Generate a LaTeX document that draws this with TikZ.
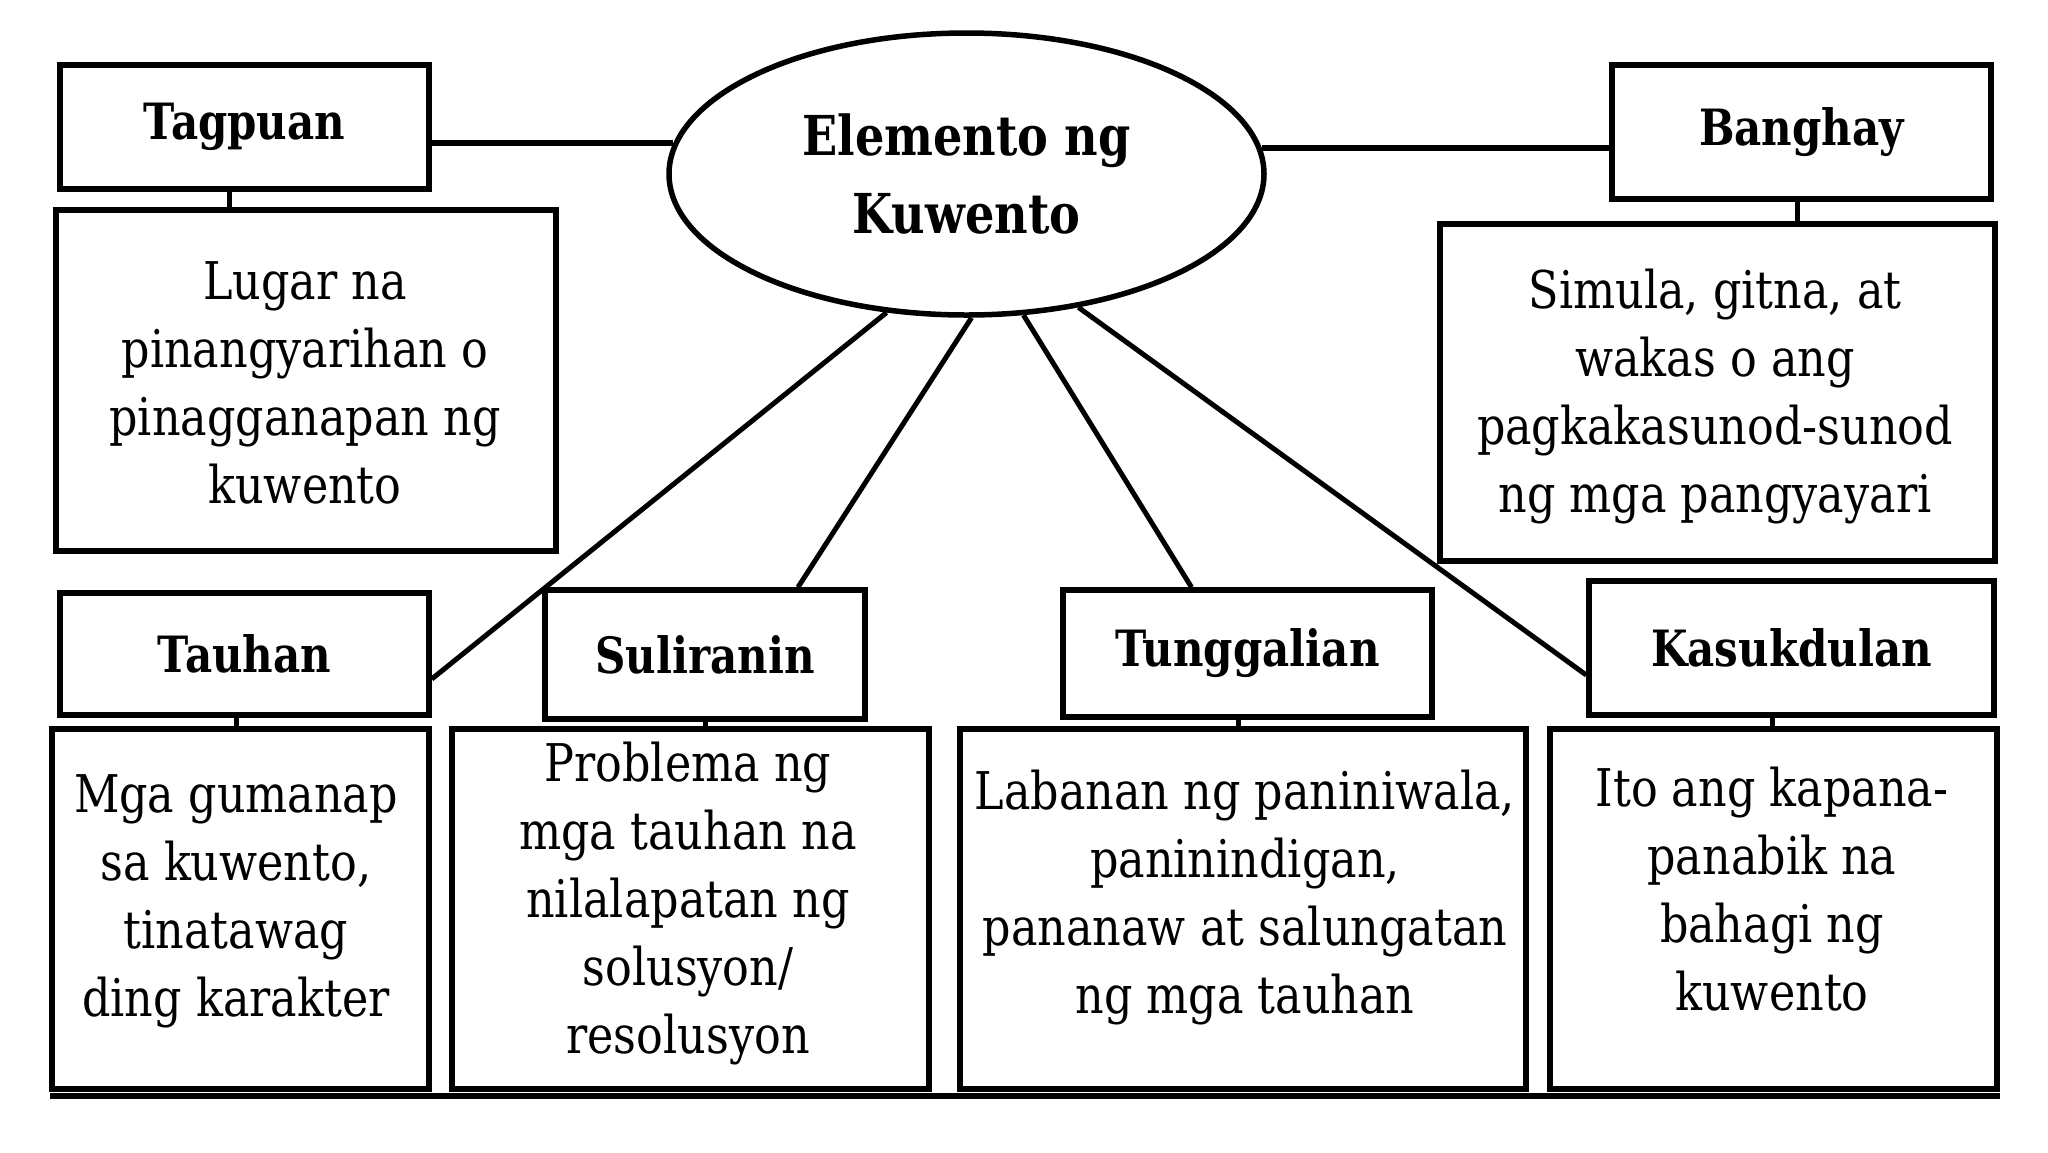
\documentclass[tikz,border=0pt]{standalone}
\usepackage{fontspec}
\setmainfont{DejaVu Serif}[FakeStretch=0.855, BoldFeatures={FakeStretch=0.84}]
\usetikzlibrary{shapes.geometric}
\tikzset{
  ln/.style={line width=5pt},
  hln/.style={line width=6.5pt},
  title/.style={draw, line width=5.5pt, inner sep=0pt, font=\bfseries\fontsize{50}{60}\selectfont},
  descbox/.style={draw, line width=5.5pt, inner sep=0pt, minimum height=360pt},
  desctext/.style={align=center, inner sep=0pt, font=\fontsize{52}{68}\selectfont},
  hub/.style={draw, ellipse, line width=5.5pt, inner sep=0pt, minimum width=595pt, minimum height=282pt, align=center, font=\bfseries\fontsize{55}{78}\selectfont}
}
\begin{document}
\begin{tikzpicture}[x=1pt, y=-1pt]
\useasboundingbox[fill=white] (0,0) rectangle (2048,1152);
% hub
\node[hub] (elem) at (966.5,174) {Elemento ng\\Kuwento};
% top row
\node[title, minimum width=369pt, minimum height=124pt] (tagpuan) at (244.5,127) {Tagpuan};
\node[title, minimum width=379pt, minimum height=134pt] (banghay) at (1801.5,132) {Banghay};
\node[descbox, minimum width=500pt, minimum height=341pt] (lugar) at (306,380.5) {};
\node[desctext] (lugart) at (305,383) {Lugar na\\pinangyarihan o\\pinagganapan ng\\kuwento};
\node[descbox, minimum width=555pt, minimum height=337pt] (simula) at (1717.5,392.5) {};
\node[desctext] (simulat) at (1715,397) {Simula, gitna, at\\wakas o ang\\pagkakasunod-sunod\\ng mga pangyayari};
% second row titles
\node[title, minimum width=369pt, minimum height=122pt] (tauhan) at (244.5,654) {Tauhan};
\node[title, minimum width=320pt, minimum height=129pt] (suliranin) at (705,654.5) {Suliranin};
\node[title, minimum width=369pt, minimum height=127pt] (tunggalian) at (1247.5,653.5) {Tunggalian};
\node[title, minimum width=405pt, minimum height=134pt] (kasukdulan) at (1791.5,648) {Kasukdulan};
% bottom description boxes
\node[descbox, minimum width=377pt] (mga) at (240.5,909) {};
\node[desctext] (mgat) at (236,901) {Mga gumanap\\sa kuwento,\\tinatawag\\ding karakter};
\node[descbox, minimum width=477pt] (problema) at (690.5,909) {};
\node[desctext] (problemat) at (688,904) {Problema ng\\mga tauhan na\\nilalapatan ng\\solusyon/\\resolusyon};
\node[descbox, minimum width=566pt] (labanan) at (1243,909) {};
\node[desctext] (labanant) at (1245,898) {Labanan ng paniniwala,\\paninindigan,\\pananaw at salungatan\\ng mga tauhan};
\node[descbox, minimum width=447pt] (ito) at (1773.5,909) {};
\node[desctext] (itot) at (1772,889) {Ito ang kapana-\\panabik na\\bahagi ng\\kuwento};
% bottom rule
\coordinate (bl) at (50,1096);
\coordinate (br) at (2000,1096);
\draw[line width=6pt] (bl) -- (br);
% connectors hub
\draw[hln] (elem.174.7) -- (elem.174.7 -| tagpuan.east);
\draw[hln] (elem.5.3) -- (elem.5.3 -| banghay.west);
\draw[ln] (elem.240.3) -- ([yshift=-25pt]tauhan.east);
\draw[ln] (elem.272.7) -- ([xshift=93pt]suliranin.north);
\draw[ln] (elem.292) -- ([xshift=-56pt]tunggalian.north);
\draw[ln] (elem.310) -- ([yshift=-27pt]kasukdulan.west);
% title to description ticks
\draw[ln] ([xshift=-15pt]tagpuan.south) -- ([xshift=-15pt]tagpuan.south |- lugar.north);
\draw[ln] ([xshift=-4pt]banghay.south) -- ([xshift=-4pt]banghay.south |- simula.north);
\draw[ln] ([xshift=-8pt]tauhan.south) -- ([xshift=-8pt]tauhan.south |- mga.north);
\draw[ln] (suliranin.south) -- (suliranin.south |- problema.north);
\draw[ln] ([xshift=-9pt]tunggalian.south) -- ([xshift=-9pt]tunggalian.south |- labanan.north);
\draw[ln] ([xshift=-19pt]kasukdulan.south) -- ([xshift=-19pt]kasukdulan.south |- ito.north);
\end{tikzpicture}
\end{document}
